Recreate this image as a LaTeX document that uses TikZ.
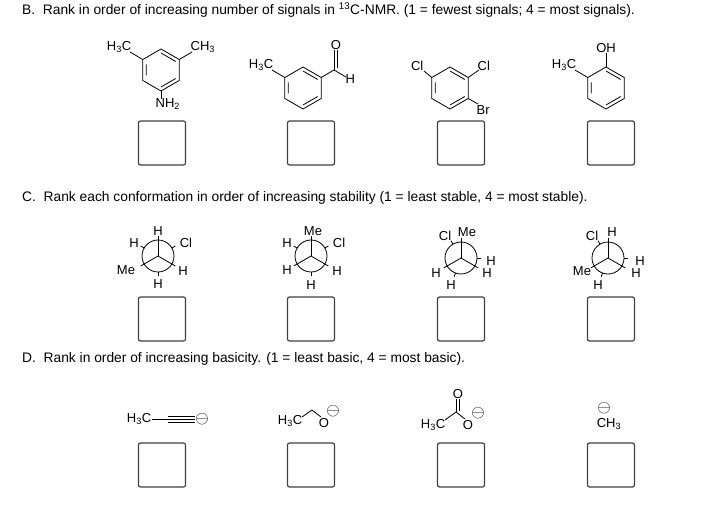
\documentclass[tikz,border=0pt]{standalone}
\usepackage{fontspec}
\setmainfont{Liberation Sans}
\begin{document}
\begin{tikzpicture}[x=1pt,y=-1pt,
  bond/.style={line width=0.8pt},
  lab/.style={font=\fontsize{13}{14}\selectfont,inner sep=0.5pt},
  head/.style={font=\fontsize{13.8}{16}\selectfont,anchor=west,inner sep=0},
  ans/.style={draw=black!75,line width=1.2pt,rounded corners=2pt,minimum width=47pt,minimum height=44pt},
  chg/.style={inner sep=0,font=\fontsize{17}{17}\selectfont}]
\useasboundingbox (0,0) rectangle (720,505);
\newcommand\benz[2]{%
  \draw[bond,shift={(#1,#2)}] (-90:21)--(-30:21)--(30:21)--(90:21)--(150:21)--(210:21)--cycle;
  \draw[bond,shift={(#1,#2)},shorten <=3pt,shorten >=3pt] (-90:17)--(-30:17) (30:17)--(90:17) (150:17)--(210:17);}
% headings
\node[head] (hb) at (22,10) {B.\ \ Rank in order of increasing number of signals in \textsuperscript{13}C-NMR. (1 = fewest signals; 4 = most signals).};
\node[head] (hc) at (22,198) {C.\ \ Rank each conformation in order of increasing stability (1 = least stable, 4 = most stable).};
\node[head] (hd) at (22,359) {D.\ \ Rank in order of increasing basicity. (1 = least basic, 4 = most basic).};
% boxes
\foreach \x/\n in {162/1,311/2,461/3,611/4}{
  \node[ans] (b\n) at (\x,143) {};
  \node[ans] (c\n) at (\x,319) {};
  \node[ans] (d\n) at (\x,465) {};}
% B1
\benz{161}{70}
\draw[bond] (142.8,59.5)--(130,52); \node[lab,anchor=east] (m1a) at (132,47) {H\textsubscript{3}C};
\draw[bond] (179.2,59.5)--(192,52); \node[lab,anchor=west] (m1b) at (190,47) {CH\textsubscript{3}};
\draw[bond] (161,91)--(161,99); \node[lab,anchor=north west] (m1c) at (155,98) {NH\textsubscript{2}};
% B2
\benz{303}{88}
\draw[bond] (284.8,77.5)--(272,70); \node[lab,anchor=east] (m2a) at (274,65) {H\textsubscript{3}C};
\draw[bond] (321.2,77.5)--(334,70)--(346,77);
\draw[bond] (334,70)--(334,50) (337.5,68)--(337.5,50);
\node[lab,anchor=south] (m2o) at (336,50) {O};
\node[lab,anchor=west] (m2h) at (345,79) {H};
% B3
\benz{450}{88}
\draw[bond] (431.8,77.5)--(424,71); \node[lab,anchor=east] (m3a) at (424,66) {Cl};
\draw[bond] (468.2,77.5)--(479,70); \node[lab,anchor=west] (m3b) at (477,66) {Cl};
\draw[bond] (468.2,98.5)--(478,104); \node[lab,anchor=west] (m3c) at (476,110) {Br};
% B4
\benz{606}{88}
\draw[bond] (606,67)--(606,53); \node[lab,anchor=south] (m4a) at (606,53) {OH};
\draw[bond] (587.8,77.5)--(575,70); \node[lab,anchor=east] (m4b) at (577,65) {H\textsubscript{3}C};
% Newman projections
\newcommand\newman[5]{%
  \begin{scope}[shift={(#1,#2)}]
  \draw[bond] (0,0) circle (16);
  \foreach \a in {90,210,330}{\draw[bond] (0,0)--(-\a:20);}
  \foreach \a in {#3,#4,#5}{\draw[bond] (-\a:16)--(-\a:20);}
  \end{scope}}
\newman{158}{256}{30}{150}{270}
\node[lab] (n1a) at (158,231) {H};
\node[lab] (n1b) at (186,243) {Cl};
\node[lab] (n1c) at (134,243) {H};
\node[lab] (n1d) at (126,270) {Me};
\node[lab] (n1e) at (183,271) {H};
\node[lab] (n1f) at (158,284) {H};
\newman{311}{256}{30}{150}{270}
\node[lab] (n2a) at (313,231) {Me};
\node[lab] (n2b) at (339,243) {Cl};
\node[lab] (n2c) at (287,243) {H};
\node[lab] (n2d) at (287,270) {H};
\node[lab] (n2e) at (337,271) {H};
\node[lab] (n2f) at (311,285) {H};
\newman{461}{258}{120}{0}{250}
\node[lab] (n3a) at (467,232) {Me};
\node[lab] (n3b) at (445,236) {Cl};
\node[lab] (n3c) at (491,261) {H};
\node[lab] (n3d) at (487,273) {H};
\node[lab] (n3e) at (436,273) {H};
\node[lab] (n3f) at (451,285) {H};
\newman{608}{258}{120}{0}{250}
\node[lab] (n4a) at (612,232) {H};
\node[lab] (n4b) at (592,236) {Cl};
\node[lab] (n4c) at (640,261) {H};
\node[lab] (n4d) at (636,273) {H};
\node[lab] (n4e) at (582,271) {Me};
\node[lab] (n4f) at (598,285) {H};
% D
\node[lab,anchor=east] (d1a) at (152,419) {H\textsubscript{3}C};
\coordinate (d1t) at (168,419);
\draw[bond] (d1a.east)--(d1t);
\draw[bond] (d1t)--(195,419) (168,416)--(195,416) (168,422)--(195,422);
\node[chg] (d1c) at (202,419) {$\ominus$};
\node[lab,anchor=east] (d2a) at (303,421) {H\textsubscript{3}C};
\coordinate (d2m) at (312,410);
\draw[bond] (302,417)--(d2m)--(321,417);
\node[lab] (d2o) at (324,423) {O};
\node[chg] (d2c) at (333,411) {$\ominus$};
\node[lab,anchor=east] (d3a) at (446,425) {H\textsubscript{3}C};
\coordinate (d3m) at (456,412);
\draw[bond] (445,420)--(d3m)--(465,419);
\draw[bond] (d3m)--(456,399) (459.5,411)--(459.5,399);
\node[lab,anchor=south] (d3o) at (458,399) {O};
\node[lab] (d3p) at (468,425) {O};
\node[chg] (d3c) at (478,413) {$\ominus$};
\node[chg] (d4c) at (604,408) {$\ominus$};
\node[lab] (d4a) at (609,424) {CH\textsubscript{3}};
\end{tikzpicture}
\end{document}
